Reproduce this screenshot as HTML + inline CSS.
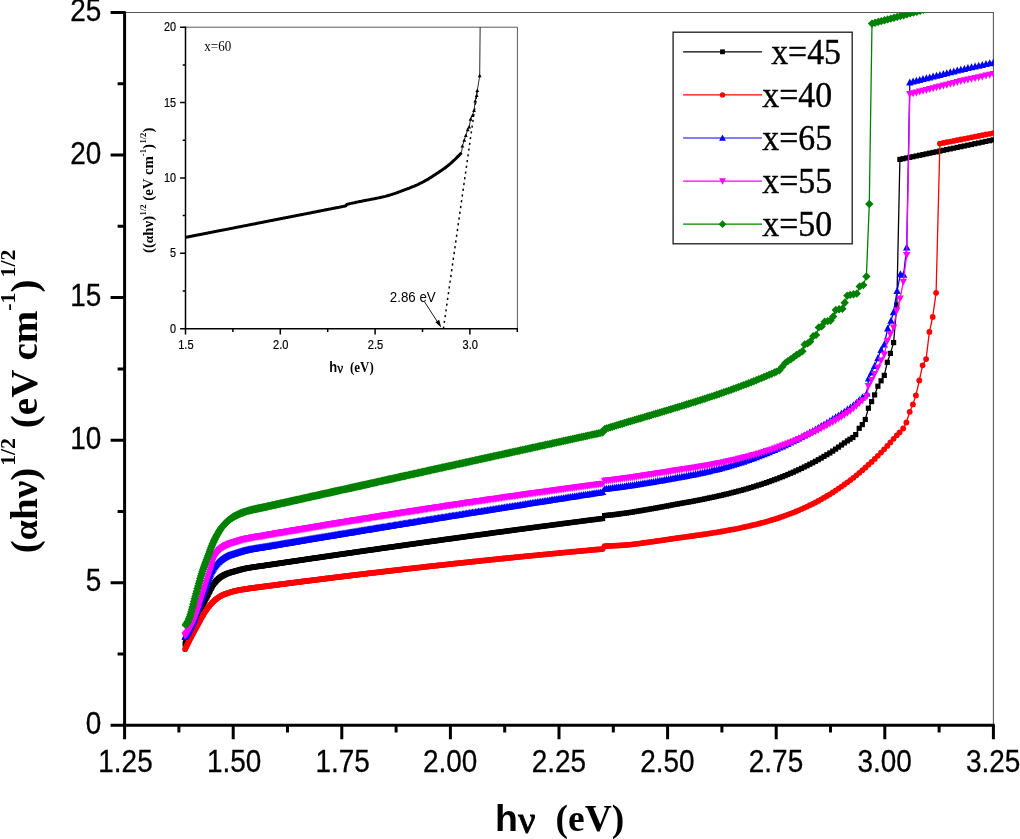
<!DOCTYPE html>
<html lang="en"><head><meta charset="utf-8"><title>Tauc plot</title>
<style>html,body{margin:0;padding:0;background:#fff}svg{display:block}text{fill:#000}.ar{font-family:"Liberation Sans",sans-serif}.tm{font-family:"Liberation Serif",serif}</style></head><body>
<svg width="1020" height="839" viewBox="0 0 1020 839">
<rect width="1020" height="839" fill="#fff"/>
<defs>
<clipPath id="cp"><rect x="124.6" y="12.5" width="869.2" height="712.8"/></clipPath>
<clipPath id="ci"><rect x="185.5" y="27.2" width="332" height="301.5"/></clipPath>
<marker id="m-black" markerWidth="10" markerHeight="10" refX="0" refY="0" viewBox="-5 -5 10 10" markerUnits="userSpaceOnUse" overflow="visible"><g fill="#000000"><rect x="-2.6" y="-2.6" width="5.2" height="5.2"/></g></marker>
<marker id="m-red" markerWidth="10" markerHeight="10" refX="0" refY="0" viewBox="-5 -5 10 10" markerUnits="userSpaceOnUse" overflow="visible"><g fill="#ff0000"><circle r="2.9"/></g></marker>
<marker id="m-blue" markerWidth="10" markerHeight="10" refX="0" refY="0" viewBox="-5 -5 10 10" markerUnits="userSpaceOnUse" overflow="visible"><g fill="#0000ff"><path d="M0,-3.9 L3.7,3.1 L-3.7,3.1Z"/></g></marker>
<marker id="m-magenta" markerWidth="10" markerHeight="10" refX="0" refY="0" viewBox="-5 -5 10 10" markerUnits="userSpaceOnUse" overflow="visible"><g fill="#ff00ff"><path d="M0,3.9 L3.7,-3.1 L-3.7,-3.1Z"/></g></marker>
<marker id="m-green" markerWidth="10" markerHeight="10" refX="0" refY="0" viewBox="-5 -5 10 10" markerUnits="userSpaceOnUse" overflow="visible"><g fill="#008000"><path d="M0,-4.2 L4.2,0 L0,4.2 L-4.2,0Z"/></g></marker>
<marker id="m-in" markerWidth="6" markerHeight="6" refX="0" refY="0" viewBox="-3 -3 6 6" markerUnits="userSpaceOnUse" overflow="visible"><g fill="#000"><path d="M0,-2.1 L1.9,1.5 L-1.9,1.5Z"/></g></marker>
</defs>
<path d="M124.6,12.5 H993.4 V725.3" fill="none" stroke="#5a5a5a" stroke-width="1.1"/>
<g clip-path="url(#cp)" fill="none" stroke-width="1.3" stroke-linejoin="round">
<polyline stroke="#000000" marker-start="url(#m-black)" marker-mid="url(#m-black)" marker-end="url(#m-black)" points="185.1,643.9 185.7,642.2 186.4,640.6 187.1,639 187.8,637.4 188.5,635.8 189.1,634.2 189.8,632.6 190.5,631 191.2,629.5 191.9,627.9 192.6,626.4 193.3,624.8 194,623.3 194.7,621.8 195.4,620.3 196.1,618.8 196.8,617.3 197.5,615.8 198.2,614.3 198.9,612.8 199.6,611.3 200.3,609.9 201,608.4 201.7,606.9 202.4,605.5 203.2,604.1 203.9,602.6 204.6,601.2 205.3,599.8 206,598.4 206.8,597 207.5,595.6 208.2,594.2 209,592.7 209.7,591.3 210.4,589.8 211.2,588.4 211.9,587 212.6,585.7 213.4,584.4 214.1,583.4 214.9,582.4 215.6,581.6 216.4,580.7 217.1,580 217.9,579.3 218.6,578.6 219.4,578 220.1,577.4 220.9,576.9 221.6,576.4 222.4,576 223.2,575.5 223.9,575.1 224.7,574.7 225.5,574.4 226.2,574 227,573.7 227.8,573.4 228.6,573.1 229.3,572.9 230.1,572.6 230.9,572.4 231.7,572.1 232.5,571.9 233.2,571.7 234,571.5 234.8,571.3 235.6,571 236.4,570.8 237.2,570.6 238,570.4 238.8,570.1 239.6,569.9 240.4,569.7 241.2,569.5 242,569.3 242.8,569.1 243.7,568.9 244.5,568.7 245.3,568.5 246.1,568.4 246.9,568.2 247.8,568 248.6,567.9 249.4,567.7 250.2,567.6 251.1,567.5 251.9,567.3 252.7,567.2 253.6,567.1 254.4,566.9 255.3,566.8 256.1,566.7 256.9,566.6 257.8,566.5 258.6,566.3 259.5,566.2 260.3,566.1 261.2,566 262.1,565.9 262.9,565.8 263.8,565.6 264.7,565.5 265.5,565.4 266.4,565.2 267.3,565.1 268.1,565 269,564.8 269.9,564.7 270.8,564.6 271.7,564.5 272.5,564.3 273.4,564.2 274.3,564.1 275.2,563.9 276.1,563.8 277,563.7 277.9,563.5 278.8,563.4 279.7,563.3 280.6,563.1 281.5,563 282.4,562.8 283.3,562.7 284.3,562.6 285.2,562.4 286.1,562.3 287,562.2 287.9,562 288.9,561.9 289.8,561.8 290.7,561.6 291.7,561.5 292.6,561.3 293.5,561.2 294.5,561.1 295.4,560.9 296.4,560.8 297.3,560.6 298.3,560.5 299.2,560.4 300.2,560.2 301.2,560.1 302.1,559.9 303.1,559.8 304.1,559.6 305,559.5 306,559.4 307,559.2 307.9,559.1 308.9,558.9 309.9,558.8 310.9,558.6 311.9,558.5 312.9,558.3 313.9,558.2 314.9,558.1 315.9,557.9 316.9,557.8 317.9,557.6 318.9,557.5 319.9,557.3 320.9,557.2 321.9,557 322.9,556.9 324,556.7 325,556.6 326,556.4 327,556.3 328.1,556.1 329.1,556 330.2,555.8 331.2,555.7 332.2,555.5 333.3,555.4 334.3,555.2 335.4,555.1 336.5,554.9 337.5,554.7 338.6,554.6 339.6,554.4 340.7,554.3 341.8,554.1 342.9,554 343.9,553.8 345,553.7 346.1,553.5 347.2,553.3 348.3,553.2 349.4,553 350.5,552.9 351.6,552.7 352.7,552.6 353.8,552.4 354.9,552.2 356,552.1 357.1,551.9 358.2,551.7 359.3,551.6 360.5,551.4 361.6,551.3 362.7,551.1 363.9,550.9 365,550.8 366.1,550.6 367.3,550.4 368.4,550.3 369.6,550.1 370.7,550 371.9,549.8 373.1,549.6 374.2,549.5 375.4,549.3 376.6,549.1 377.7,549 378.9,548.8 380.1,548.6 381.3,548.4 382.5,548.3 383.7,548.1 384.9,547.9 386.1,547.8 387.3,547.6 388.5,547.4 389.7,547.2 390.9,547.1 392.1,546.9 393.3,546.7 394.6,546.6 395.8,546.4 397,546.2 398.3,546 399.5,545.9 400.7,545.7 402,545.5 403.2,545.3 404.5,545.2 405.8,545 407,544.8 408.3,544.6 409.6,544.4 410.8,544.3 412.1,544.1 413.4,543.9 414.7,543.7 416,543.5 417.3,543.4 418.6,543.2 419.9,543 421.2,542.8 422.5,542.6 423.8,542.4 425.1,542.3 426.4,542.1 427.8,541.9 429.1,541.7 430.4,541.5 431.8,541.3 433.1,541.1 434.5,541 435.8,540.8 437.2,540.6 438.5,540.4 439.9,540.2 441.3,540 442.6,539.8 444,539.6 445.4,539.4 446.8,539.2 448.2,539.1 449.6,538.9 451,538.7 452.4,538.5 453.8,538.3 455.2,538.1 456.6,537.9 458.1,537.7 459.5,537.5 460.9,537.3 462.4,537.1 463.8,536.9 465.3,536.7 466.7,536.5 468.2,536.3 469.6,536.1 471.1,535.9 472.6,535.7 474,535.5 475.5,535.3 477,535.1 478.5,534.9 480,534.7 481.5,534.5 483,534.3 484.5,534.1 486,533.9 487.5,533.7 489.1,533.5 490.6,533.2 492.1,533 493.7,532.8 495.2,532.6 496.8,532.4 498.3,532.2 499.9,532 501.5,531.8 503,531.6 504.6,531.4 506.2,531.1 507.8,530.9 509.4,530.7 511,530.5 512.6,530.3 514.2,530.1 515.8,529.8 517.5,529.6 519.1,529.4 520.7,529.2 522.4,529 524,528.8 525.7,528.5 527.3,528.3 529,528.1 530.7,527.9 532.3,527.6 534,527.4 535.7,527.2 537.4,527 539.1,526.7 540.8,526.5 542.5,526.3 544.2,526.1 545.9,525.8 547.7,525.6 549.4,525.4 551.2,525.2 552.9,524.9 554.7,524.7 556.4,524.5 558.2,524.2 560,524 561.7,523.8 563.5,523.5 565.3,523.3 567.1,523.1 568.9,522.8 570.7,522.6 572.6,522.4 574.4,522.1 576.2,521.9 578.1,521.6 579.9,521.4 581.8,521.2 583.6,520.9 585.5,520.7 587.4,520.4 589.2,520.2 591.1,519.9 593,519.7 594.9,519.5 596.8,519.2 598.8,519 600.7,518.7 602.6,518.5 604.6,515.6 606.5,515.4 608.5,515.2 610.4,515 612.4,514.8 614.4,514.6 616.3,514.3 618.3,514.1 620.3,513.8 622.3,513.5 624.4,513.3 626.4,513 628.4,512.7 630.5,512.4 632.5,512.1 634.6,511.7 636.6,511.4 638.7,511 640.8,510.7 642.9,510.3 644.9,509.9 647.1,509.6 649.2,509.2 651.3,508.8 653.4,508.5 655.6,508.1 657.7,507.7 659.9,507.3 662,506.9 664.2,506.5 666.4,506.1 668.6,505.7 670.8,505.2 673,504.8 675.2,504.4 677.4,504 679.6,503.6 681.9,503.2 684.1,502.8 686.4,502.4 688.7,502 690.9,501.6 693.2,501.2 695.5,500.7 697.8,500.3 700.2,499.8 702.5,499.4 704.8,498.9 707.2,498.4 709.5,497.9 711.9,497.4 714.3,496.9 716.7,496.4 719.1,495.8 721.5,495.3 723.9,494.7 726.3,494.1 728.7,493.6 731.2,492.9 733.7,492.3 736.1,491.7 738.6,491 741.1,490.4 743.6,489.7 746.1,489 748.6,488.2 751.2,487.5 753.7,486.7 756.3,485.9 758.8,485.1 761.4,484.3 764,483.4 766.6,482.6 769.2,481.6 771.8,480.7 774.5,479.7 777.1,478.8 779.8,477.7 782.5,476.7 785.1,475.6 787.8,474.5 790.5,473.3 793.3,472.2 796,470.9 798.7,469.7 801.5,468.4 804.3,467 807.1,465.7 809.8,464.2 812.7,462.8 815.5,461.3 818.3,459.7 821.2,458.1 824,456.4 826.9,454.7 829.8,453 832.7,451.1 835.6,449.1 838.5,447.1 841.5,445 844.4,442.9 847.4,440.9 850,439.2 852.9,437.5 855.7,434.6 859.2,428.3 862.3,424.6 865.3,419.5 868.4,408.2 871.6,401.6 874.6,394.9 877.9,386.2 881.1,380.8 884.3,375.4 887.3,362.3 890.4,353.4 893.6,342.6 896.8,305 899.9,159.4 903.1,158.7 906.4,158 909.7,157.4 912.9,156.7 916.2,156 919.6,155.3 922.9,154.6 926.2,153.9 929.6,153.2 933,152.5 936.4,151.8 939.8,151.1 943.2,150.3 946.7,149.6 950.2,148.9 953.6,148.2 957.2,147.4 960.7,146.7 964.2,146 967.8,145.2 971.4,144.5 974.9,143.7 978.6,143 982.2,142.2 985.8,141.4 989.5,140.7 993.2,139.9 996.9,139.8"/>
<polyline stroke="#ff0000" marker-start="url(#m-red)" marker-mid="url(#m-red)" marker-end="url(#m-red)" points="185.1,649.2 185.7,647.8 186.4,646.4 187.1,645 187.8,643.7 188.5,642.3 189.1,640.9 189.8,639.6 190.5,638.2 191.2,636.9 191.9,635.6 192.6,634.3 193.3,632.9 194,631.6 194.7,630.3 195.4,629.1 196.1,627.8 196.8,626.5 197.5,625.2 198.2,624 198.9,622.7 199.6,621.4 200.3,620.1 201,618.8 201.7,617.5 202.4,616.3 203.2,615 203.9,613.8 204.6,612.6 205.3,611.5 206,610.4 206.8,609.3 207.5,608.3 208.2,607.3 209,606.4 209.7,605.5 210.4,604.6 211.2,603.8 211.9,603 212.6,602.2 213.4,601.5 214.1,600.8 214.9,600.2 215.6,599.5 216.4,598.9 217.1,598.3 217.9,597.8 218.6,597.3 219.4,596.8 220.1,596.3 220.9,595.9 221.6,595.5 222.4,595.1 223.2,594.8 223.9,594.5 224.7,594.2 225.5,593.9 226.2,593.6 227,593.4 227.8,593.1 228.6,592.8 229.3,592.6 230.1,592.3 230.9,592.1 231.7,591.8 232.5,591.6 233.2,591.4 234,591.2 234.8,591 235.6,590.8 236.4,590.6 237.2,590.5 238,590.3 238.8,590.1 239.6,590 240.4,589.8 241.2,589.7 242,589.6 242.8,589.4 243.7,589.3 244.5,589.2 245.3,589 246.1,588.9 246.9,588.8 247.8,588.6 248.6,588.5 249.4,588.4 250.2,588.3 251.1,588.2 251.9,588 252.7,587.9 253.6,587.8 254.4,587.7 255.3,587.6 256.1,587.5 256.9,587.4 257.8,587.3 258.6,587.2 259.5,587.1 260.3,587 261.2,586.8 262.1,586.7 262.9,586.6 263.8,586.5 264.7,586.4 265.5,586.3 266.4,586.2 267.3,586.1 268.1,585.9 269,585.8 269.9,585.7 270.8,585.6 271.7,585.5 272.5,585.4 273.4,585.3 274.3,585.1 275.2,585 276.1,584.9 277,584.8 277.9,584.7 278.8,584.5 279.7,584.4 280.6,584.3 281.5,584.2 282.4,584.1 283.3,584 284.3,583.8 285.2,583.7 286.1,583.6 287,583.5 287.9,583.4 288.9,583.2 289.8,583.1 290.7,583 291.7,582.9 292.6,582.8 293.5,582.6 294.5,582.5 295.4,582.4 296.4,582.3 297.3,582.2 298.3,582 299.2,581.9 300.2,581.8 301.2,581.7 302.1,581.5 303.1,581.4 304.1,581.3 305,581.2 306,581.1 307,580.9 307.9,580.8 308.9,580.7 309.9,580.6 310.9,580.4 311.9,580.3 312.9,580.2 313.9,580.1 314.9,579.9 315.9,579.8 316.9,579.7 317.9,579.6 318.9,579.4 319.9,579.3 320.9,579.2 321.9,579 322.9,578.9 324,578.8 325,578.7 326,578.5 327,578.4 328.1,578.3 329.1,578.2 330.2,578 331.2,577.9 332.2,577.8 333.3,577.6 334.3,577.5 335.4,577.4 336.5,577.2 337.5,577.1 338.6,577 339.6,576.9 340.7,576.7 341.8,576.6 342.9,576.5 343.9,576.3 345,576.2 346.1,576.1 347.2,575.9 348.3,575.8 349.4,575.7 350.5,575.5 351.6,575.4 352.7,575.3 353.8,575.1 354.9,575 356,574.9 357.1,574.7 358.2,574.6 359.3,574.5 360.5,574.3 361.6,574.2 362.7,574.1 363.9,573.9 365,573.8 366.1,573.7 367.3,573.5 368.4,573.4 369.6,573.2 370.7,573.1 371.9,573 373.1,572.8 374.2,572.7 375.4,572.6 376.6,572.4 377.7,572.3 378.9,572.1 380.1,572 381.3,571.9 382.5,571.7 383.7,571.6 384.9,571.4 386.1,571.3 387.3,571.2 388.5,571 389.7,570.9 390.9,570.7 392.1,570.6 393.3,570.5 394.6,570.3 395.8,570.2 397,570 398.3,569.9 399.5,569.7 400.7,569.6 402,569.5 403.2,569.3 404.5,569.2 405.8,569 407,568.9 408.3,568.7 409.6,568.6 410.8,568.5 412.1,568.3 413.4,568.2 414.7,568 416,567.9 417.3,567.7 418.6,567.6 419.9,567.4 421.2,567.3 422.5,567.1 423.8,567 425.1,566.8 426.4,566.7 427.8,566.5 429.1,566.4 430.4,566.2 431.8,566.1 433.1,566 434.5,565.8 435.8,565.7 437.2,565.5 438.5,565.4 439.9,565.2 441.3,565.1 442.6,564.9 444,564.8 445.4,564.6 446.8,564.4 448.2,564.3 449.6,564.1 451,564 452.4,563.8 453.8,563.7 455.2,563.5 456.6,563.4 458.1,563.2 459.5,563.1 460.9,562.9 462.4,562.8 463.8,562.6 465.3,562.5 466.7,562.3 468.2,562.2 469.6,562 471.1,561.8 472.6,561.7 474,561.5 475.5,561.4 477,561.2 478.5,561.1 480,560.9 481.5,560.7 483,560.6 484.5,560.4 486,560.3 487.5,560.1 489.1,560 490.6,559.8 492.1,559.6 493.7,559.5 495.2,559.3 496.8,559.2 498.3,559 499.9,558.8 501.5,558.7 503,558.5 504.6,558.4 506.2,558.2 507.8,558 509.4,557.9 511,557.7 512.6,557.6 514.2,557.4 515.8,557.2 517.5,557.1 519.1,556.9 520.7,556.7 522.4,556.6 524,556.4 525.7,556.2 527.3,556.1 529,555.9 530.7,555.8 532.3,555.6 534,555.4 535.7,555.3 537.4,555.1 539.1,554.9 540.8,554.8 542.5,554.6 544.2,554.4 545.9,554.3 547.7,554.1 549.4,553.9 551.2,553.8 552.9,553.6 554.7,553.4 556.4,553.3 558.2,553.1 560,552.9 561.7,552.8 563.5,552.6 565.3,552.4 567.1,552.3 568.9,552.1 570.7,551.9 572.6,551.7 574.4,551.6 576.2,551.4 578.1,551.2 579.9,551.1 581.8,550.9 583.6,550.7 585.5,550.6 587.4,550.4 589.2,550.2 591.1,550 593,549.9 594.9,549.7 596.8,549.5 598.8,549.4 600.7,549.2 602.6,549 604.6,546.1 606.5,546 608.5,546 610.4,545.9 612.4,545.8 614.4,545.7 616.3,545.6 618.3,545.5 620.3,545.4 622.3,545.2 624.4,545.1 626.4,544.9 628.4,544.8 630.5,544.6 632.5,544.3 634.6,544.1 636.6,543.8 638.7,543.6 640.8,543.3 642.9,543 644.9,542.7 647.1,542.4 649.2,542.1 651.3,541.8 653.4,541.6 655.6,541.2 657.7,540.9 659.9,540.6 662,540.3 664.2,540 666.4,539.6 668.6,539.3 670.8,539 673,538.7 675.2,538.3 677.4,538 679.6,537.7 681.9,537.4 684.1,537.1 686.4,536.8 688.7,536.5 690.9,536.2 693.2,535.9 695.5,535.5 697.8,535.2 700.2,534.9 702.5,534.5 704.8,534.2 707.2,533.8 709.5,533.4 711.9,533.1 714.3,532.7 716.7,532.3 719.1,531.9 721.5,531.5 723.9,531.1 726.3,530.6 728.7,530.2 731.2,529.7 733.7,529.3 736.1,528.8 738.6,528.3 741.1,527.8 743.6,527.2 746.1,526.7 748.6,526.1 751.2,525.5 753.7,524.9 756.3,524.3 758.8,523.7 761.4,523 764,522.3 766.6,521.6 769.2,520.8 771.8,520 774.5,519.2 777.1,518.4 779.8,517.5 782.5,516.6 785.1,515.6 787.8,514.6 790.5,513.6 793.3,512.6 796,511.5 798.7,510.3 801.5,509.1 804.3,507.9 807.1,506.6 809.8,505.2 812.7,503.9 815.5,502.4 818.3,500.9 821.2,499.3 824,497.7 826.9,496 829.8,494.3 832.7,492.5 835.6,490.6 838.5,488.6 841.5,486.6 844.4,484.5 847.4,482.3 850.4,480.1 853.4,477.8 856.4,475.3 859.4,472.8 862.4,470.2 865.5,467.5 868.5,464.7 871.6,461.9 874.7,458.9 877.8,455.8 881,452.6 884.1,449.3 887.3,445.9 890.4,442.4 893.6,438.8 896.8,435.3 899.6,432.4 903.2,428.5 906.4,422.5 909.7,411.8 912.9,404.4 915.9,395.4 919.3,380.5 922.6,365.3 926.1,359.1 929.4,331.9 932.7,317 936.1,292.8 939.9,143.6 943.3,142.9 946.8,142.2 950.3,141.6 953.7,140.9 957.2,140.2 960.8,139.5 964.3,138.8 967.9,138.1 971.4,137.4 975,136.7 978.7,136 982.3,135.2 985.9,134.5 989.6,133.8 993.3,133.1 997,133"/>
<polyline stroke="#0000ff" marker-start="url(#m-blue)" marker-mid="url(#m-blue)" marker-end="url(#m-blue)" points="185.1,636.8 185.7,635.7 186.4,634.6 187.1,633.5 187.8,632.3 188.5,631.1 189.1,629.8 189.8,628.5 190.5,627.2 191.2,625.8 191.9,624.3 192.6,622.9 193.3,621.4 194,619.8 194.7,618.2 195.4,616.5 196.1,614.8 196.8,612.9 197.5,611 198.2,609.1 198.9,607.1 199.6,605.1 200.3,603.1 201,601.1 201.7,599 202.4,597.1 203.2,595.1 203.9,593.1 204.6,591 205.3,588.9 206,586.7 206.8,584.5 207.5,582.4 208.2,580.2 209,578.1 209.7,576.1 210.4,574.3 211.2,572.5 211.9,571 212.6,569.6 213.4,568.3 214.1,567.2 214.9,566.1 215.6,565.1 216.4,564.2 217.1,563.3 217.9,562.5 218.6,561.8 219.4,561.1 220.1,560.4 220.9,559.8 221.6,559.3 222.4,558.8 223.2,558.2 223.9,557.8 224.7,557.3 225.5,556.9 226.2,556.4 227,556.1 227.8,555.7 228.6,555.4 229.3,555.1 230.1,554.8 230.9,554.6 231.7,554.3 232.5,554.1 233.2,553.8 234,553.6 234.8,553.3 235.6,553.1 236.4,552.8 237.2,552.6 238,552.3 238.8,552.1 239.6,551.9 240.4,551.6 241.2,551.4 242,551.1 242.8,550.9 243.7,550.7 244.5,550.5 245.3,550.3 246.1,550.1 246.9,549.9 247.8,549.7 248.6,549.5 249.4,549.4 250.2,549.2 251.1,549.1 251.9,548.9 252.7,548.8 253.6,548.6 254.4,548.5 255.3,548.3 256.1,548.2 256.9,548.1 257.8,547.9 258.6,547.8 259.5,547.7 260.3,547.5 261.2,547.4 262.1,547.3 262.9,547.1 263.8,547 264.7,546.8 265.5,546.7 266.4,546.6 267.3,546.4 268.1,546.3 269,546.1 269.9,546 270.8,545.8 271.7,545.7 272.5,545.5 273.4,545.4 274.3,545.2 275.2,545.1 276.1,544.9 277,544.8 277.9,544.6 278.8,544.4 279.7,544.3 280.6,544.1 281.5,544 282.4,543.8 283.3,543.7 284.3,543.5 285.2,543.4 286.1,543.2 287,543.1 287.9,542.9 288.9,542.7 289.8,542.6 290.7,542.4 291.7,542.3 292.6,542.1 293.5,542 294.5,541.8 295.4,541.6 296.4,541.5 297.3,541.3 298.3,541.2 299.2,541 300.2,540.8 301.2,540.7 302.1,540.5 303.1,540.4 304.1,540.2 305,540 306,539.9 307,539.7 307.9,539.5 308.9,539.4 309.9,539.2 310.9,539 311.9,538.9 312.9,538.7 313.9,538.5 314.9,538.4 315.9,538.2 316.9,538 317.9,537.9 318.9,537.7 319.9,537.5 320.9,537.4 321.9,537.2 322.9,537 324,536.9 325,536.7 326,536.5 327,536.3 328.1,536.2 329.1,536 330.2,535.8 331.2,535.6 332.2,535.5 333.3,535.3 334.3,535.1 335.4,534.9 336.5,534.8 337.5,534.6 338.6,534.4 339.6,534.2 340.7,534.1 341.8,533.9 342.9,533.7 343.9,533.5 345,533.3 346.1,533.2 347.2,533 348.3,532.8 349.4,532.6 350.5,532.4 351.6,532.3 352.7,532.1 353.8,531.9 354.9,531.7 356,531.5 357.1,531.3 358.2,531.2 359.3,531 360.5,530.8 361.6,530.6 362.7,530.4 363.9,530.2 365,530 366.1,529.8 367.3,529.7 368.4,529.5 369.6,529.3 370.7,529.1 371.9,528.9 373.1,528.7 374.2,528.5 375.4,528.3 376.6,528.1 377.7,527.9 378.9,527.7 380.1,527.5 381.3,527.3 382.5,527.1 383.7,527 384.9,526.8 386.1,526.6 387.3,526.4 388.5,526.2 389.7,526 390.9,525.8 392.1,525.6 393.3,525.4 394.6,525.2 395.8,525 397,524.8 398.3,524.6 399.5,524.4 400.7,524.1 402,523.9 403.2,523.7 404.5,523.5 405.8,523.3 407,523.1 408.3,522.9 409.6,522.7 410.8,522.5 412.1,522.3 413.4,522.1 414.7,521.9 416,521.7 417.3,521.4 418.6,521.2 419.9,521 421.2,520.8 422.5,520.6 423.8,520.4 425.1,520.2 426.4,520 427.8,519.7 429.1,519.5 430.4,519.3 431.8,519.1 433.1,518.9 434.5,518.6 435.8,518.4 437.2,518.2 438.5,518 439.9,517.8 441.3,517.5 442.6,517.3 444,517.1 445.4,516.9 446.8,516.7 448.2,516.4 449.6,516.2 451,516 452.4,515.7 453.8,515.5 455.2,515.3 456.6,515.1 458.1,514.8 459.5,514.6 460.9,514.4 462.4,514.1 463.8,513.9 465.3,513.7 466.7,513.4 468.2,513.2 469.6,513 471.1,512.7 472.6,512.5 474,512.3 475.5,512 477,511.8 478.5,511.5 480,511.3 481.5,511.1 483,510.8 484.5,510.6 486,510.3 487.5,510.1 489.1,509.9 490.6,509.6 492.1,509.4 493.7,509.1 495.2,508.9 496.8,508.6 498.3,508.4 499.9,508.1 501.5,507.9 503,507.6 504.6,507.4 506.2,507.1 507.8,506.9 509.4,506.6 511,506.4 512.6,506.1 514.2,505.8 515.8,505.6 517.5,505.3 519.1,505.1 520.7,504.8 522.4,504.6 524,504.3 525.7,504 527.3,503.8 529,503.5 530.7,503.2 532.3,503 534,502.7 535.7,502.4 537.4,502.2 539.1,501.9 540.8,501.6 542.5,501.4 544.2,501.1 545.9,500.8 547.7,500.6 549.4,500.3 551.2,500 552.9,499.7 554.7,499.5 556.4,499.2 558.2,498.9 560,498.6 561.7,498.3 563.5,498.1 565.3,497.8 567.1,497.5 568.9,497.2 570.7,496.9 572.6,496.7 574.4,496.4 576.2,496.1 578.1,495.8 579.9,495.5 581.8,495.2 583.6,494.9 585.5,494.6 587.4,494.3 589.2,494.1 591.1,493.8 593,493.5 594.9,493.2 596.8,492.9 598.8,492.6 600.7,492.3 602.6,492 604.6,488.9 606.5,488.7 608.5,488.5 610.4,488.2 612.4,488 614.4,487.7 616.3,487.4 618.3,487.2 620.3,486.9 622.3,486.6 624.4,486.3 626.4,486 628.4,485.7 630.5,485.4 632.5,485.1 634.6,484.8 636.6,484.5 638.7,484.2 640.8,483.8 642.9,483.5 644.9,483.2 647.1,482.8 649.2,482.5 651.3,482.1 653.4,481.8 655.6,481.4 657.7,481 659.9,480.6 662,480.3 664.2,479.9 666.4,479.5 668.6,479.1 670.8,478.7 673,478.3 675.2,477.9 677.4,477.5 679.6,477.1 681.9,476.7 684.1,476.3 686.4,475.9 688.7,475.5 690.9,475 693.2,474.6 695.5,474.2 697.8,473.7 700.2,473.2 702.5,472.7 704.8,472.2 707.2,471.7 709.5,471.1 711.9,470.5 714.3,470 716.7,469.4 719.1,468.8 721.5,468.1 723.9,467.5 726.3,466.8 728.7,466.1 731.2,465.4 733.7,464.7 736.1,463.9 738.6,463.2 741.1,462.4 743.6,461.6 746.1,460.7 748.6,459.9 751.2,459 753.7,458.1 756.3,457.2 758.8,456.2 761.4,455.2 764,454.2 766.6,453.1 769.2,452.1 771.8,451 774.5,449.9 777.1,448.7 779.8,447.5 782.5,446.3 785.1,445.1 787.8,443.8 790.5,442.5 793.3,441.2 796,439.8 798.7,438.4 801.5,436.9 804.3,435.5 807.1,434 809.8,432.5 812.7,430.9 815.5,429.3 818.3,427.7 821.2,426 824,424.3 826.9,422.6 829.8,420.8 832.7,419 835.6,417.2 838.5,415.4 841.5,413.5 844.4,411.6 847.4,409.5 850.4,407.4 853.4,405.1 856.4,402.6 859.4,400 862.4,397.3 866.8,393.3 868.6,378.4 871.6,372.4 874.6,365.9 877.9,358.1 881.1,349.8 884.3,344.4 887.7,328.3 891,320.6 893.5,312.2 897.1,291 900.4,274.1 903.6,274.7 906.7,247.3 909.8,82.3 913.1,81.5 916.4,80.7 919.7,79.8 923,79 926.4,78.2 929.7,77.3 933.1,76.5 936.5,75.6 939.9,74.8 943.4,73.9 946.8,73.1 950.3,72.2 953.8,71.3 957.3,70.5 960.8,69.6 964.4,68.8 967.9,68 971.5,67.2 975.1,66.4 978.7,65.6 982.3,64.8 986,63.9 989.7,63.1 993.4,62.3 997.1,62.2"/>
<polyline stroke="#ff00ff" marker-start="url(#m-magenta)" marker-mid="url(#m-magenta)" marker-end="url(#m-magenta)" points="185.1,635.6 185.7,634.8 186.4,633.9 187.1,633 187.8,631.9 188.5,630.8 189.1,629.6 189.8,628.4 190.5,627.1 191.2,625.7 191.9,624.3 192.6,622.9 193.3,621.4 194,619.8 194.7,618.2 195.4,616.3 196.1,614.4 196.8,612.3 197.5,610.2 198.2,607.9 198.9,605.6 199.6,603.3 200.3,601 201,598.7 201.7,596.4 202.4,594.2 203.2,592 203.9,589.8 204.6,587.5 205.3,585.3 206,583 206.8,580.7 207.5,578.4 208.2,576.1 209,573.8 209.7,571.6 210.4,569.3 211.2,566.9 211.9,564.4 212.6,561.9 213.4,559.6 214.1,557.6 214.9,556.1 215.6,554.9 216.4,553.7 217.1,552.7 217.9,551.8 218.6,550.9 219.4,550.1 220.1,549.4 220.9,548.8 221.6,548.2 222.4,547.6 223.2,547.1 223.9,546.6 224.7,546.2 225.5,545.7 226.2,545.3 227,545 227.8,544.6 228.6,544.3 229.3,543.9 230.1,543.6 230.9,543.4 231.7,543.1 232.5,542.8 233.2,542.5 234,542.3 234.8,542 235.6,541.8 236.4,541.5 237.2,541.3 238,541 238.8,540.8 239.6,540.6 240.4,540.3 241.2,540.1 242,539.9 242.8,539.7 243.7,539.4 244.5,539.2 245.3,539 246.1,538.8 246.9,538.7 247.8,538.5 248.6,538.3 249.4,538.1 250.2,538 251.1,537.8 251.9,537.7 252.7,537.5 253.6,537.4 254.4,537.2 255.3,537.1 256.1,536.9 256.9,536.8 257.8,536.7 258.6,536.5 259.5,536.4 260.3,536.3 261.2,536.1 262.1,536 262.9,535.8 263.8,535.7 264.7,535.5 265.5,535.4 266.4,535.2 267.3,535.1 268.1,534.9 269,534.8 269.9,534.6 270.8,534.5 271.7,534.3 272.5,534.2 273.4,534 274.3,533.9 275.2,533.7 276.1,533.6 277,533.4 277.9,533.2 278.8,533.1 279.7,532.9 280.6,532.8 281.5,532.6 282.4,532.5 283.3,532.3 284.3,532.2 285.2,532 286.1,531.8 287,531.7 287.9,531.5 288.9,531.4 289.8,531.2 290.7,531.1 291.7,530.9 292.6,530.7 293.5,530.6 294.5,530.4 295.4,530.3 296.4,530.1 297.3,529.9 298.3,529.8 299.2,529.6 300.2,529.4 301.2,529.3 302.1,529.1 303.1,529 304.1,528.8 305,528.6 306,528.5 307,528.3 307.9,528.1 308.9,528 309.9,527.8 310.9,527.6 311.9,527.5 312.9,527.3 313.9,527.1 314.9,527 315.9,526.8 316.9,526.6 317.9,526.5 318.9,526.3 319.9,526.1 320.9,526 321.9,525.8 322.9,525.6 324,525.5 325,525.3 326,525.1 327,524.9 328.1,524.8 329.1,524.6 330.2,524.4 331.2,524.2 332.2,524.1 333.3,523.9 334.3,523.7 335.4,523.6 336.5,523.4 337.5,523.2 338.6,523 339.6,522.9 340.7,522.7 341.8,522.5 342.9,522.3 343.9,522.2 345,522 346.1,521.8 347.2,521.6 348.3,521.4 349.4,521.3 350.5,521.1 351.6,520.9 352.7,520.7 353.8,520.5 354.9,520.4 356,520.2 357.1,520 358.2,519.8 359.3,519.6 360.5,519.5 361.6,519.3 362.7,519.1 363.9,518.9 365,518.7 366.1,518.5 367.3,518.4 368.4,518.2 369.6,518 370.7,517.8 371.9,517.6 373.1,517.4 374.2,517.2 375.4,517.1 376.6,516.9 377.7,516.7 378.9,516.5 380.1,516.3 381.3,516.1 382.5,515.9 383.7,515.7 384.9,515.5 386.1,515.4 387.3,515.2 388.5,515 389.7,514.8 390.9,514.6 392.1,514.4 393.3,514.2 394.6,514 395.8,513.8 397,513.6 398.3,513.4 399.5,513.2 400.7,513 402,512.8 403.2,512.6 404.5,512.4 405.8,512.2 407,512.1 408.3,511.9 409.6,511.7 410.8,511.5 412.1,511.3 413.4,511.1 414.7,510.9 416,510.7 417.3,510.5 418.6,510.3 419.9,510.1 421.2,509.9 422.5,509.7 423.8,509.4 425.1,509.2 426.4,509 427.8,508.8 429.1,508.6 430.4,508.4 431.8,508.2 433.1,508 434.5,507.8 435.8,507.6 437.2,507.4 438.5,507.2 439.9,507 441.3,506.8 442.6,506.6 444,506.4 445.4,506.1 446.8,505.9 448.2,505.7 449.6,505.5 451,505.3 452.4,505.1 453.8,504.9 455.2,504.7 456.6,504.5 458.1,504.2 459.5,504 460.9,503.8 462.4,503.6 463.8,503.4 465.3,503.2 466.7,502.9 468.2,502.7 469.6,502.5 471.1,502.3 472.6,502.1 474,501.9 475.5,501.6 477,501.4 478.5,501.2 480,501 481.5,500.8 483,500.5 484.5,500.3 486,500.1 487.5,499.9 489.1,499.6 490.6,499.4 492.1,499.2 493.7,499 495.2,498.8 496.8,498.5 498.3,498.3 499.9,498.1 501.5,497.8 503,497.6 504.6,497.4 506.2,497.2 507.8,496.9 509.4,496.7 511,496.5 512.6,496.2 514.2,496 515.8,495.8 517.5,495.6 519.1,495.3 520.7,495.1 522.4,494.9 524,494.6 525.7,494.4 527.3,494.2 529,493.9 530.7,493.7 532.3,493.4 534,493.2 535.7,493 537.4,492.7 539.1,492.5 540.8,492.3 542.5,492 544.2,491.8 545.9,491.5 547.7,491.3 549.4,491.1 551.2,490.8 552.9,490.6 554.7,490.3 556.4,490.1 558.2,489.8 560,489.6 561.7,489.4 563.5,489.1 565.3,488.9 567.1,488.6 568.9,488.4 570.7,488.1 572.6,487.9 574.4,487.6 576.2,487.4 578.1,487.1 579.9,486.9 581.8,486.6 583.6,486.4 585.5,486.1 587.4,485.9 589.2,485.6 591.1,485.4 593,485.1 594.9,484.9 596.8,484.6 598.8,484.4 600.7,484.1 602.6,483.9 604.6,480.9 606.5,480.7 608.5,480.4 610.4,480.2 612.4,480 614.4,479.7 616.3,479.5 618.3,479.2 620.3,479 622.3,478.7 624.4,478.4 626.4,478.2 628.4,477.9 630.5,477.6 632.5,477.3 634.6,477 636.6,476.7 638.7,476.3 640.8,476 642.9,475.7 644.9,475.4 647.1,475 649.2,474.7 651.3,474.4 653.4,474.1 655.6,473.7 657.7,473.4 659.9,473 662,472.7 664.2,472.3 666.4,472 668.6,471.6 670.8,471.3 673,470.9 675.2,470.6 677.4,470.2 679.6,469.9 681.9,469.5 684.1,469.2 686.4,468.9 688.7,468.5 690.9,468.2 693.2,467.8 695.5,467.5 697.8,467.1 700.2,466.7 702.5,466.3 704.8,465.9 707.2,465.5 709.5,465 711.9,464.6 714.3,464.2 716.7,463.7 719.1,463.2 721.5,462.8 723.9,462.3 726.3,461.7 728.7,461.2 731.2,460.7 733.7,460.1 736.1,459.5 738.6,458.9 741.1,458.3 743.6,457.7 746.1,457.1 748.6,456.4 751.2,455.7 753.7,455 756.3,454.3 758.8,453.6 761.4,452.8 764,452 766.6,451.2 769.2,450.3 771.8,449.5 774.5,448.6 777.1,447.7 779.8,446.7 782.5,445.7 785.1,444.7 787.8,443.7 790.5,442.6 793.3,441.5 796,440.3 798.7,439.2 801.5,438 804.3,436.7 807.1,435.4 809.8,434.1 812.7,432.7 815.5,431.3 818.3,429.9 821.2,428.4 824,426.8 826.9,425.3 829.8,423.6 832.7,422 835.6,420.3 838.5,418.6 841.5,416.8 844.4,414.9 847.4,412.9 850.4,410.8 853.4,408.4 856.4,405.9 859.4,403.2 862.4,400.4 866.8,396.3 868.4,386.2 871.6,380.2 874.6,374.2 877.9,367.7 881.1,360.5 884.3,354.6 887.3,340.9 890.4,334.3 893.6,327.7 896.8,310.5 900.1,298.5 903.3,281.8 906.7,255 909.8,94.2 913.1,93.4 916.4,92.5 919.7,91.7 923,90.8 926.4,90 929.7,89.1 933.1,88.3 936.5,87.4 939.9,86.5 943.4,85.6 946.8,84.8 950.3,83.9 953.8,83 957.3,82.1 960.8,81.2 964.4,80.4 967.9,79.7 971.5,78.9 975.1,78.1 978.7,77.3 982.3,76.5 986,75.7 989.7,74.9 993.4,74.1 997.1,74"/>
<polyline stroke="#008000" marker-start="url(#m-green)" marker-mid="url(#m-green)" marker-end="url(#m-green)" points="185.7,624.9 186.4,624 187.1,623 187.8,621.7 188.5,620.3 189.1,618.7 189.8,616.7 190.5,614.6 191.2,612.1 191.9,609.6 192.6,606.9 193.3,604.2 194,601.4 194.7,598.8 195.4,596.2 196.1,593.7 196.8,591.2 197.5,588.6 198.2,586.1 198.9,583.5 199.6,581 200.3,578.5 201,576 201.7,573.7 202.4,571.4 203.2,569.2 203.9,567.2 204.6,565.2 205.3,563.3 206,561.4 206.8,559.5 207.5,557.5 208.2,555.5 209,553.5 209.7,551.4 210.4,549.5 211.2,547.6 211.9,545.8 212.6,543.9 213.4,542.2 214.1,540.5 214.9,539 215.6,537.5 216.4,536.1 217.1,534.7 217.9,533.4 218.6,532.1 219.4,530.9 220.1,529.7 220.9,528.6 221.6,527.6 222.4,526.7 223.2,525.7 223.9,524.9 224.7,524 225.5,523.2 226.2,522.4 227,521.7 227.8,521 228.6,520.4 229.3,519.7 230.1,519.1 230.9,518.6 231.7,518 232.5,517.5 233.2,517 234,516.5 234.8,516.1 235.6,515.7 236.4,515.3 237.2,514.9 238,514.5 238.8,514.2 239.6,513.8 240.4,513.5 241.2,513.1 242,512.8 242.8,512.5 243.7,512.2 244.5,511.9 245.3,511.6 246.1,511.4 246.9,511.1 247.8,510.9 248.6,510.6 249.4,510.4 250.2,510.2 251.1,510 251.9,509.8 252.7,509.6 253.6,509.4 254.4,509.2 255.3,509 256.1,508.9 256.9,508.7 257.8,508.5 258.6,508.3 259.5,508.2 260.3,508 261.2,507.8 262.1,507.6 262.9,507.5 263.8,507.3 264.7,507.1 265.5,506.9 266.4,506.7 267.3,506.5 268.1,506.3 269,506.1 269.9,505.9 270.8,505.7 271.7,505.5 272.5,505.3 273.4,505.1 274.3,504.9 275.2,504.7 276.1,504.5 277,504.3 277.9,504.1 278.8,503.9 279.7,503.7 280.6,503.5 281.5,503.3 282.4,503.1 283.3,502.9 284.3,502.7 285.2,502.5 286.1,502.3 287,502.1 287.9,501.9 288.9,501.7 289.8,501.5 290.7,501.3 291.7,501.1 292.6,500.8 293.5,500.6 294.5,500.4 295.4,500.2 296.4,500 297.3,499.8 298.3,499.6 299.2,499.4 300.2,499.2 301.2,498.9 302.1,498.7 303.1,498.5 304.1,498.3 305,498.1 306,497.9 307,497.6 307.9,497.4 308.9,497.2 309.9,497 310.9,496.8 311.9,496.5 312.9,496.3 313.9,496.1 314.9,495.9 315.9,495.7 316.9,495.4 317.9,495.2 318.9,495 319.9,494.8 320.9,494.5 321.9,494.3 322.9,494.1 324,493.8 325,493.6 326,493.4 327,493.2 328.1,492.9 329.1,492.7 330.2,492.5 331.2,492.2 332.2,492 333.3,491.8 334.3,491.5 335.4,491.3 336.5,491.1 337.5,490.8 338.6,490.6 339.6,490.4 340.7,490.1 341.8,489.9 342.9,489.6 343.9,489.4 345,489.2 346.1,488.9 347.2,488.7 348.3,488.4 349.4,488.2 350.5,488 351.6,487.7 352.7,487.5 353.8,487.2 354.9,487 356,486.7 357.1,486.5 358.2,486.2 359.3,486 360.5,485.7 361.6,485.5 362.7,485.2 363.9,485 365,484.7 366.1,484.5 367.3,484.2 368.4,484 369.6,483.7 370.7,483.4 371.9,483.2 373.1,482.9 374.2,482.7 375.4,482.4 376.6,482.2 377.7,481.9 378.9,481.6 380.1,481.4 381.3,481.1 382.5,480.8 383.7,480.6 384.9,480.3 386.1,480 387.3,479.8 388.5,479.5 389.7,479.2 390.9,479 392.1,478.7 393.3,478.4 394.6,478.2 395.8,477.9 397,477.6 398.3,477.3 399.5,477.1 400.7,476.8 402,476.5 403.2,476.2 404.5,476 405.8,475.7 407,475.4 408.3,475.1 409.6,474.8 410.8,474.6 412.1,474.3 413.4,474 414.7,473.7 416,473.4 417.3,473.1 418.6,472.8 419.9,472.6 421.2,472.3 422.5,472 423.8,471.7 425.1,471.4 426.4,471.1 427.8,470.8 429.1,470.5 430.4,470.2 431.8,469.9 433.1,469.6 434.5,469.3 435.8,469 437.2,468.7 438.5,468.4 439.9,468.1 441.3,467.8 442.6,467.5 444,467.2 445.4,466.9 446.8,466.6 448.2,466.3 449.6,466 451,465.7 452.4,465.4 453.8,465.1 455.2,464.8 456.6,464.4 458.1,464.1 459.5,463.8 460.9,463.5 462.4,463.2 463.8,462.9 465.3,462.5 466.7,462.2 468.2,461.9 469.6,461.6 471.1,461.3 472.6,460.9 474,460.6 475.5,460.3 477,460 478.5,459.6 480,459.3 481.5,459 483,458.6 484.5,458.3 486,458 487.5,457.6 489.1,457.3 490.6,457 492.1,456.6 493.7,456.3 495.2,455.9 496.8,455.6 498.3,455.3 499.9,454.9 501.5,454.6 503,454.2 504.6,453.9 506.2,453.5 507.8,453.2 509.4,452.8 511,452.5 512.6,452.1 514.2,451.8 515.8,451.4 517.5,451.1 519.1,450.7 520.7,450.3 522.4,450 524,449.6 525.7,449.3 527.3,448.9 529,448.5 530.7,448.2 532.3,447.8 534,447.4 535.7,447.1 537.4,446.7 539.1,446.3 540.8,445.9 542.5,445.6 544.2,445.2 545.9,444.8 547.7,444.4 549.4,444.1 551.2,443.7 552.9,443.3 554.7,442.9 556.4,442.5 558.2,442.1 560,441.8 561.7,441.4 563.5,441 565.3,440.6 567.1,440.2 568.9,439.8 570.7,439.4 572.6,439 574.4,438.6 576.2,438.2 578.1,437.8 579.9,437.4 581.8,437 583.6,436.6 585.5,436.2 587.4,435.8 589.2,435.4 591.1,434.9 593,434.5 594.9,434.1 596.8,433.7 598.8,433.3 600.7,432.9 602.6,432.4 604.6,429.1 606.5,428.5 608.5,427.9 610.4,427.3 612.4,426.7 614.4,426.1 616.3,425.5 618.3,424.9 620.3,424.3 622.3,423.7 624.4,423 626.4,422.4 628.4,421.8 630.5,421.2 632.5,420.6 634.6,420 636.6,419.4 638.7,418.8 640.8,418.2 642.9,417.6 644.9,416.9 647.1,416.3 649.2,415.7 651.3,415.1 653.4,414.4 655.6,413.8 657.7,413.2 659.9,412.5 662,411.9 664.2,411.2 666.4,410.6 668.6,409.9 670.8,409.3 673,408.6 675.2,407.9 677.4,407.3 679.6,406.6 681.9,405.9 684.1,405.2 686.4,404.5 688.7,403.8 690.9,403.1 693.2,402.4 695.5,401.7 697.8,400.9 700.2,400.2 702.5,399.4 704.8,398.7 707.2,397.9 709.5,397.1 711.9,396.4 714.3,395.6 716.7,394.8 719.1,394 721.5,393.1 723.9,392.3 726.3,391.4 728.7,390.6 731.2,389.7 733.7,388.8 736.1,387.9 738.6,387 741.1,386.1 743.6,385.1 746.1,384.2 748.6,383.2 751.2,382.2 753.7,381.2 756.3,380.2 758.8,379.1 761.4,378.1 764,377 766.6,375.9 769.2,374.8 771.8,373.7 774.5,372.5 776.5,371.6 779.4,370.3 782,367 785.3,363.1 787.9,361.1 790.8,359.2 793.6,357.2 796.5,355 799.4,353.3 802.4,351.3 804.7,344.5 807.6,343.4 810.2,341.5 813.2,336.2 816.1,334.9 818.8,327.4 821.6,326.4 824.7,321.8 827.7,321.1 830.6,320.5 833.2,316.5 835.8,310 839.1,309.3 842.4,308.7 844.7,302.8 847.3,295.6 850.2,294.9 853.5,294.3 856.8,293.6 859.7,286.4 863.3,285.1 866.4,276.4 869.3,204 872,23.6 875.1,22.8 878.2,21.9 881.3,21.1 884.5,20.3 887.6,19.4 890.8,18.6 894,17.7 897.2,16.9 900.4,16 903.7,15.2 906.9,14.3 910.2,13.4 913.5,12.6 916.8,11.7 920.1,10.8 923.4,9.9 926.8,9 930.1,8.1 933.5,7.2 936.9,6.3 940.3,5.4 943.8,4.5 947.2,3.6 950.7,2.7 954.2,1.8 957.7,0.8 961.2,-0.1 964.7,-1 968.3,-2 971.9,-2.9 975.5,-3.9 979.1,-4.8 982.7,-5.8 986.4,-6.8 990,-7.7 993.7,-8.7 997.4,-8.7"/>
</g>
<g stroke="#000" stroke-width="3" fill="none" stroke-linecap="butt">
<path d="M124.6,11.2 V726.8"/>
<path d="M123.1,725.3 H994.8"/>
<path d="M124.6,725.3 v14 M233.2,725.3 v14 M341.8,725.3 v14 M450.4,725.3 v14 M559,725.3 v14 M667.6,725.3 v14 M776.2,725.3 v14 M884.8,725.3 v14 M993.4,725.3 v14 M178.9,725.3 v7.3 M287.5,725.3 v7.3 M396.1,725.3 v7.3 M504.7,725.3 v7.3 M613.3,725.3 v7.3 M721.9,725.3 v7.3 M830.5,725.3 v7.3 M939.1,725.3 v7.3 M124.6,725.3 h-14 M124.6,582.7 h-14 M124.6,440.2 h-14 M124.6,297.6 h-14 M124.6,155.1 h-14 M124.6,12.5 h-14 M124.6,654 h-7 M124.6,511.5 h-7 M124.6,368.9 h-7 M124.6,226.3 h-7 M124.6,83.8 h-7"/>
</g>
<g class="ar" font-size="30.6" stroke="#000" stroke-width="0.3">
<text transform="translate(125.5,772.2) scale(0.912,1)" text-anchor="middle">1.25</text>
<text transform="translate(234.1,772.2) scale(0.912,1)" text-anchor="middle">1.50</text>
<text transform="translate(342.7,772.2) scale(0.912,1)" text-anchor="middle">1.75</text>
<text transform="translate(450.2,772.2) scale(0.912,1)" text-anchor="middle">2.00</text>
<text transform="translate(558.8,772.2) scale(0.912,1)" text-anchor="middle">2.25</text>
<text transform="translate(667.4,772.2) scale(0.912,1)" text-anchor="middle">2.50</text>
<text transform="translate(776,772.2) scale(0.912,1)" text-anchor="middle">2.75</text>
<text transform="translate(884.6,772.2) scale(0.912,1)" text-anchor="middle">3.00</text>
<text transform="translate(993.2,772.2) scale(0.912,1)" text-anchor="middle">3.25</text>
<text transform="translate(101.3,733.8) scale(0.912,1)" text-anchor="end">0</text>
<text transform="translate(101.3,591.2) scale(0.912,1)" text-anchor="end">5</text>
<text transform="translate(101.3,448.7) scale(0.912,1)" text-anchor="end">10</text>
<text transform="translate(101.3,306.1) scale(0.912,1)" text-anchor="end">15</text>
<text transform="translate(101.3,163.6) scale(0.912,1)" text-anchor="end">20</text>
<text transform="translate(101.3,21) scale(0.912,1)" text-anchor="end">25</text>
</g>
<text x="494.9" y="831.3" font-size="37.5" font-weight="bold"><tspan class="ar">h</tspan><tspan class="tm" font-size="38" font-weight="normal" stroke="#000" stroke-width="1" dx="0.5" dy="1.5">ν</tspan><tspan class="tm" dx="20" dy="-1.5">(eV)</tspan></text>
<text class="tm" transform="translate(37.3,553.2) scale(0.95,1) rotate(-90)" font-size="39.1" font-weight="bold">(<tspan font-size="36">α</tspan>hν)<tspan font-size="21.8" dy="-23.5" dx="2">1/2</tspan><tspan dy="23.5"> (eV cm</tspan><tspan font-size="21.8" dy="-23.5">-1</tspan><tspan dy="23.5">)</tspan><tspan font-size="21.8" dy="-23.5" dx="2">1/2</tspan></text>
<rect x="673.1" y="32.2" width="179.1" height="211.6" fill="#fff" stroke="#1a1a1a" stroke-width="1.3"/>
<path d="M683.1,51.8 H762" stroke="#000000" stroke-width="1.2"/>
<g transform="translate(722.5,51.8) scale(0.92)" fill="#000000"><rect x="-2.6" y="-2.6" width="5.2" height="5.2"/></g>
<text class="tm" transform="translate(771.2,63.8) scale(0.955,1)" font-size="35.4" stroke="#000" stroke-width="0.4">x=45</text>
<path d="M683.1,94.9 H762" stroke="#ff0000" stroke-width="1.2"/>
<g transform="translate(722.5,94.9) scale(0.92)" fill="#ff0000"><circle r="2.9"/></g>
<text class="tm" transform="translate(762.3,106.9) scale(0.955,1)" font-size="35.4" stroke="#000" stroke-width="0.4">x=40</text>
<path d="M683.1,138 H762" stroke="#0000ff" stroke-width="1.2"/>
<g transform="translate(722.5,138) scale(0.92)" fill="#0000ff"><path d="M0,-3.9 L3.7,3.1 L-3.7,3.1Z"/></g>
<text class="tm" transform="translate(762.3,150) scale(0.955,1)" font-size="35.4" stroke="#000" stroke-width="0.4">x=65</text>
<path d="M683.1,181.1 H762" stroke="#ff00ff" stroke-width="1.2"/>
<g transform="translate(722.5,181.1) scale(0.92)" fill="#ff00ff"><path d="M0,3.9 L3.7,-3.1 L-3.7,-3.1Z"/></g>
<text class="tm" transform="translate(762.3,193.1) scale(0.955,1)" font-size="35.4" stroke="#000" stroke-width="0.4">x=55</text>
<path d="M683.1,224.2 H762" stroke="#008000" stroke-width="1.2"/>
<g transform="translate(722.5,224.2) scale(0.92)" fill="#008000"><path d="M0,-4.2 L4.2,0 L0,4.2 L-4.2,0Z"/></g>
<text class="tm" transform="translate(762.3,236.2) scale(0.955,1)" font-size="35.4" stroke="#000" stroke-width="0.4">x=50</text>
<path d="M185.5,27.2 H517.4 V328.7" fill="none" stroke="#5a5a5a" stroke-width="1"/>
<g clip-path="url(#ci)" fill="none">
<polyline stroke="#000" stroke-width="3" stroke-linejoin="round" points="185.5,237.4 185.9,237.3 186.2,237.2 186.6,237.2 186.9,237.1 187.3,237 187.6,237 188,236.9 188.3,236.8 188.7,236.8 189,236.7 189.4,236.6 189.7,236.6 190.1,236.5 190.4,236.4 190.8,236.3 191.1,236.3 191.5,236.2 191.9,236.1 192.2,236.1 192.6,236 192.9,235.9 193.3,235.8 193.7,235.8 194,235.7 194.4,235.6 194.8,235.6 195.1,235.5 195.5,235.4 195.9,235.3 196.2,235.3 196.6,235.2 197,235.1 197.3,235.1 197.7,235 198.1,234.9 198.5,234.8 198.9,234.8 199.2,234.7 199.6,234.6 200,234.5 200.4,234.5 200.7,234.4 201.1,234.3 201.5,234.2 201.9,234.2 202.3,234.1 202.7,234 203.1,233.9 203.4,233.9 203.8,233.8 204.2,233.7 204.6,233.6 205,233.5 205.4,233.5 205.8,233.4 206.2,233.3 206.6,233.2 207,233.2 207.4,233.1 207.8,233 208.2,232.9 208.6,232.8 209,232.8 209.4,232.7 209.8,232.6 210.2,232.5 210.6,232.5 211,232.4 211.4,232.3 211.8,232.2 212.2,232.1 212.7,232 213.1,232 213.5,231.9 213.9,231.8 214.3,231.7 214.7,231.6 215.2,231.6 215.6,231.5 216,231.4 216.4,231.3 216.8,231.2 217.3,231.1 217.7,231.1 218.1,231 218.6,230.9 219,230.8 219.4,230.7 219.8,230.6 220.3,230.6 220.7,230.5 221.1,230.4 221.6,230.3 222,230.2 222.5,230.1 222.9,230 223.3,230 223.8,229.9 224.2,229.8 224.7,229.7 225.1,229.6 225.6,229.5 226,229.4 226.5,229.3 226.9,229.3 227.4,229.2 227.8,229.1 228.3,229 228.7,228.9 229.2,228.8 229.6,228.7 230.1,228.6 230.6,228.5 231,228.4 231.5,228.4 232,228.3 232.4,228.2 232.9,228.1 233.4,228 233.8,227.9 234.3,227.8 234.8,227.7 235.2,227.6 235.7,227.5 236.2,227.4 236.7,227.3 237.2,227.2 237.6,227.1 238.1,227.1 238.6,227 239.1,226.9 239.6,226.8 240.1,226.7 240.6,226.6 241,226.5 241.5,226.4 242,226.3 242.5,226.2 243,226.1 243.5,226 244,225.9 244.5,225.8 245,225.7 245.5,225.6 246,225.5 246.5,225.4 247.1,225.3 247.6,225.2 248.1,225.1 248.6,225 249.1,224.9 249.6,224.8 250.1,224.7 250.7,224.6 251.2,224.5 251.7,224.4 252.2,224.3 252.7,224.2 253.3,224.1 253.8,224 254.3,223.9 254.9,223.8 255.4,223.7 255.9,223.6 256.5,223.5 257,223.3 257.5,223.2 258.1,223.1 258.6,223 259.2,222.9 259.7,222.8 260.3,222.7 260.8,222.6 261.4,222.5 261.9,222.4 262.5,222.3 263,222.2 263.6,222.1 264.1,221.9 264.7,221.8 265.3,221.7 265.8,221.6 266.4,221.5 267,221.4 267.5,221.3 268.1,221.2 268.7,221.1 269.3,220.9 269.8,220.8 270.4,220.7 271,220.6 271.6,220.5 272.2,220.4 272.8,220.3 273.3,220.1 273.9,220 274.5,219.9 275.1,219.8 275.7,219.7 276.3,219.6 276.9,219.4 277.5,219.3 278.1,219.2 278.7,219.1 279.3,219 279.9,218.8 280.6,218.7 281.2,218.6 281.8,218.5 282.4,218.4 283,218.2 283.6,218.1 284.3,218 284.9,217.9 285.5,217.7 286.2,217.6 286.8,217.5 287.4,217.4 288.1,217.3 288.7,217.1 289.3,217 290,216.9 290.6,216.7 291.3,216.6 291.9,216.5 292.6,216.4 293.2,216.2 293.9,216.1 294.5,216 295.2,215.9 295.9,215.7 296.5,215.6 297.2,215.5 297.8,215.3 298.5,215.2 299.2,215.1 299.9,214.9 300.5,214.8 301.2,214.7 301.9,214.5 302.6,214.4 303.3,214.3 304,214.1 304.7,214 305.4,213.9 306.1,213.7 306.7,213.6 307.5,213.4 308.2,213.3 308.9,213.2 309.6,213 310.3,212.9 311,212.8 311.7,212.6 312.4,212.5 313.1,212.3 313.9,212.2 314.6,212 315.3,211.9 316.1,211.8 316.8,211.6 317.5,211.5 318.3,211.3 319,211.2 319.8,211 320.5,210.9 321.2,210.7 322,210.6 322.8,210.4 323.5,210.3 324.3,210.1 325,210 325.8,209.8 326.6,209.7 327.3,209.5 328.1,209.4 328.9,209.2 329.7,209.1 330.5,208.9 331.2,208.8 332,208.6 332.8,208.5 333.6,208.3 334.4,208.2 335.2,208 336,207.8 336.8,207.7 337.6,207.5 338.4,207.4 339.3,207.2 340.1,207 340.9,206.9 341.7,206.7 342.6,206.6 343.4,206.4 344.2,206.2 345.1,206.1 345.9,205.9 346.7,204.4 347.6,204.2 348.4,204 349.3,203.8 350.1,203.6 351,203.4 351.9,203.2 352.7,203.1 353.6,202.9 354.5,202.7 355.3,202.5 356.2,202.3 357.1,202.1 358,201.9 358.9,201.7 359.8,201.5 360.7,201.4 361.6,201.2 362.5,201 363.4,200.8 364.3,200.6 365.2,200.5 366.1,200.3 367.1,200.1 368,199.9 368.9,199.8 369.8,199.6 370.8,199.4 371.7,199.2 372.7,199.1 373.6,198.9 374.6,198.7 375.5,198.5 376.5,198.3 377.4,198.1 378.4,197.9 379.4,197.7 380.4,197.5 381.3,197.3 382.3,197.1 383.3,196.8 384.3,196.6 385.3,196.4 386.3,196.1 387.3,195.8 388.3,195.5 389.3,195.2 390.3,194.9 391.3,194.6 392.4,194.3 393.4,193.9 394.4,193.6 395.5,193.2 396.5,192.9 397.6,192.5 398.6,192.1 399.7,191.7 400.7,191.3 401.8,190.9 402.9,190.5 403.9,190.1 405,189.7 406.1,189.3 407.2,188.9 408.3,188.5 409.4,188.1 410.5,187.6 411.6,187.2 412.7,186.7 413.8,186.3 414.9,185.8 416,185.3 417.2,184.8 418.3,184.3 419.5,183.7 420.6,183.2 421.8,182.6 422.9,182 424.1,181.4 425.2,180.7 426.4,180.1 427.6,179.4 428.8,178.7 429.9,177.9 431.1,177.2 432.3,176.4 433.5,175.6 434.8,174.8 436,174.1 437.2,173.3 438.4,172.5 439.6,171.6 440.9,170.8 442.1,170 443.4,169.1 444.6,168.2 445.9,167.2 447.1,166.3 448.4,165.2 449.7,164.2 451,163.1 452.3,161.9 453.6,160.7 454.9,159.5 456.2,158.2 457.5,156.9 458.8,155.6 460.1,154.2 461.5,152.7"/>
<polyline stroke="#111" stroke-width="0.9" marker-mid="url(#m-in)" points="461.5,152.7 462.4,146 464.3,140.2 465.8,135.5 467.7,129.7 469.2,126.9 470.6,119.2 472.5,115.4 474,110.6 475.3,101.1 476.7,95.4 477.3,90.6 479.7,75.7 480.2,20"/>
<path d="M443.4,328.7 L477.2,91" stroke="#000" stroke-width="1.5" stroke-dasharray="2.2,3.6"/>
</g>
<g stroke="#000" fill="none">
<path d="M185.5,26.6 V329.5" stroke-width="1.5"/>
<path d="M184.8,328.7 H518" stroke-width="1.6"/>
<path d="M185.5,328.7 v5.8 M280.3,328.7 v5.8 M375.1,328.7 v5.8 M469.9,328.7 v5.8 M232.9,328.7 v3.2 M327.7,328.7 v3.2 M422.5,328.7 v3.2 M517.3,328.7 v3.2 M185.5,328.7 h-5.4 M185.5,253.3 h-5.4 M185.5,177.9 h-5.4 M185.5,102.6 h-5.4 M185.5,27.2 h-5.4 M185.5,291 h-2.8 M185.5,215.6 h-2.8 M185.5,140.3 h-2.8 M185.5,64.9 h-2.8" stroke-width="1.5"/>
</g>
<g class="ar" font-size="12.6" stroke="#000" stroke-width="0.2">
<text transform="translate(185.9,348.8) scale(0.88,1)" text-anchor="middle">1.5</text>
<text transform="translate(280.7,348.8) scale(0.88,1)" text-anchor="middle">2.0</text>
<text transform="translate(375.5,348.8) scale(0.88,1)" text-anchor="middle">2.5</text>
<text transform="translate(470.3,348.8) scale(0.88,1)" text-anchor="middle">3.0</text>
<text transform="translate(176,332.6) scale(0.86,1)" text-anchor="end">0</text>
<text transform="translate(176,257.2) scale(0.86,1)" text-anchor="end">5</text>
<text transform="translate(176,181.8) scale(0.86,1)" text-anchor="end">10</text>
<text transform="translate(176,106.5) scale(0.86,1)" text-anchor="end">15</text>
<text transform="translate(176,31.1) scale(0.86,1)" text-anchor="end">20</text>
</g>
<text class="tm" transform="translate(204.3,50.9) scale(0.93,1)" font-size="14">x=60</text>
<text class="ar" transform="translate(389.8,301.8) scale(0.9,1)" font-size="14.8">2.86 eV</text>
<path d="M424.4,301.6 L439.6,325.2" stroke="#000" stroke-width="0.9" fill="none"/>
<path d="M441.2,327.6 L435.4,322.2 L439.2,319.8Z" fill="#000"/>
<text transform="translate(329.3,372.3) scale(0.9,1)" font-size="14.4" font-weight="bold"><tspan class="ar">h</tspan><tspan class="tm" font-size="14.6" font-weight="normal" stroke="#000" stroke-width="0.4" dy="0.5">ν</tspan><tspan class="tm" dx="7.6" dy="-0.5">(eV)</tspan></text>
<text class="tm" transform="translate(153.4,253) rotate(-90)" font-size="14.8" font-weight="bold">((<tspan font-size="13.4">α</tspan>hν)<tspan font-size="8.6" dy="-7.6" dx="0.5">1/2</tspan><tspan dy="7.6"> (eV cm</tspan><tspan font-size="8.6" dy="-7.6">-1</tspan><tspan dy="7.6">)</tspan><tspan font-size="8.6" dy="-7.6" dx="0.5">1/2</tspan><tspan dy="7.6">)</tspan></text>
</svg></body></html>
